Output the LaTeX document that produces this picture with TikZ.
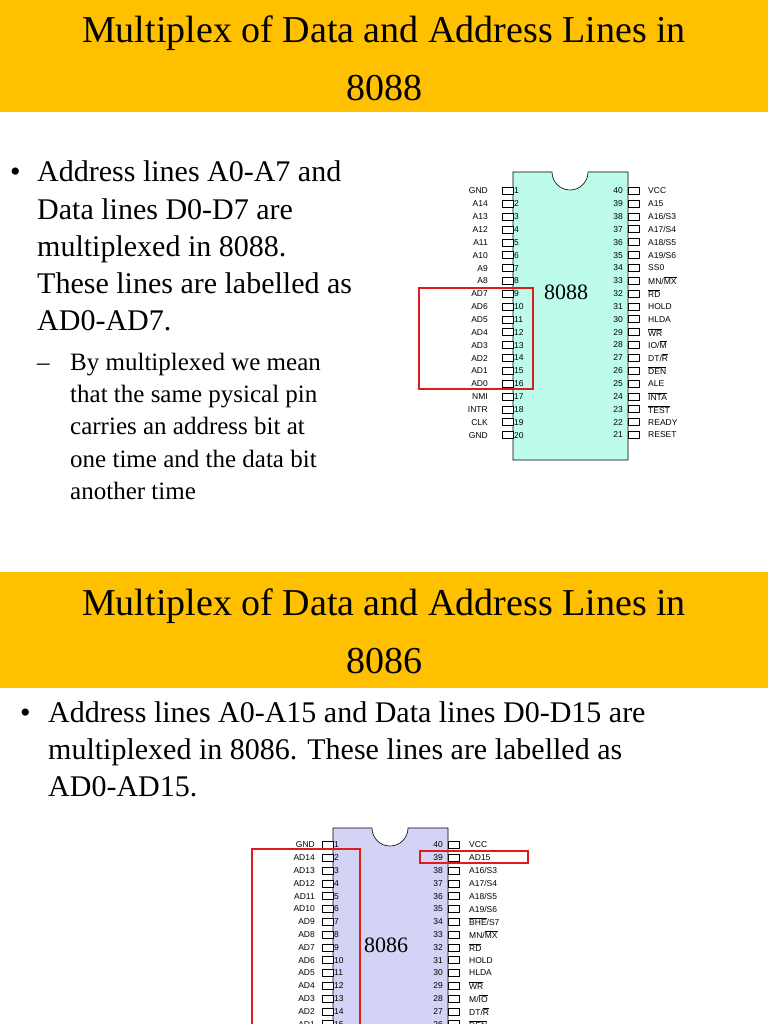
\documentclass[tikz,border=0pt]{standalone}
\usepackage{fontspec}
\setmainfont{Liberation Serif}
\newfontfamily\pinfont{Liberation Sans}
\definecolor{banner}{HTML}{FFC000}
\definecolor{chipA}{HTML}{BDFCEB}
\definecolor{chipB}{HTML}{D3D3F5}
\definecolor{redbox}{HTML}{E01B1B}
\newcommand{\ol}[1]{$\overline{\mbox{#1}}$}
\tikzset{
 title/.style={font=\fontsize{38}{44}\selectfont, anchor=center},
 body/.style={font=\fontsize{30}{36}\selectfont, anchor=base west, inner sep=0, yshift=-10pt},
 sub/.style={font=\fontsize{25}{30}\selectfont, anchor=base west, inner sep=0, yshift=-8pt},
 pinlab/.style={font=\pinfont\fontsize{8.5}{9}\selectfont, inner sep=0},
 pinbox/.style={draw=black, line width=0.8pt, fill=white},
 hl/.style={draw=redbox, line width=1.6pt},
}
\begin{document}
\begin{tikzpicture}[x=1pt,y=-1pt]
\useasboundingbox (0,0) rectangle (768,1024);
\fill[white] (0,0) rectangle (768,1024);
% banners
\fill[banner] (0,0) rectangle (768,112);
\node[title] (t1a) at (384,33) {Multiplex of Data and Address Lines in};
\node[title] (t1b) at (384,88) {8088};
\fill[banner] (0,572) rectangle (768,688);
\node[title] (t2a) at (384,606) {Multiplex of Data and Address Lines in};
\node[title] (t2b) at (384,661) {8086};
% text 1
\node[body] (b1) at (10,172) {•};
\node[body] (l1) at (37,172) {Address lines A0-A7 and};
\node[body] (l2) at (37,209) {Data lines D0-D7 are};
\node[body] (l3) at (37,246) {multiplexed in 8088.};
\node[body] (l4) at (37,283) {These lines are labelled as};
\node[body] (l5) at (37,320) {AD0-AD7.};
\node[sub] (d1) at (37,362) {–};
\node[sub] (s1) at (70,362) {By multiplexed we mean};
\node[sub] (s2) at (70,394) {that the same pysical pin};
\node[sub] (s3) at (70,426) {carries an address bit at};
\node[sub] (s4) at (70,459) {one time and the data bit};
\node[sub] (s5) at (70,491) {another time};
% text 2
\node[body] (b2) at (20,712) {•};
\node[body] (m1) at (48,712) {Address lines A0-A15 and Data lines D0-D15 are};
\node[body] (m2) at (48,749) {multiplexed in 8086. These lines are labelled as};
\node[body] (m3) at (48,786) {AD0-AD15.};
% chip 8088
\fill[chipA, draw=black, line width=0.6pt] (513,172) -- (552,172) arc[start angle=180,end angle=0,radius=18] -- (628,172) -- (628,460) -- (513,460) -- cycle;
\node[font=\fontsize{22}{24}\selectfont] (c1) at (566,292) {8088};
\foreach \n/\l [count=\i] in {GND,A14,A13,A12,A11,A10,A9,A8,AD7,AD6,AD5,AD4,AD3,AD2,AD1,AD0,NMI,INTR,CLK,GND}{
 \pgfmathsetmacro\yy{191+(\i-1)*12.85}
 \draw[pinbox] (502,\yy-3.5) rectangle (513,\yy+3.5);
 \node[pinlab, anchor=east] (aL\i) at (488,\yy) {\n};
 \node[pinlab, anchor=west] (aN\i) at (514,\yy) {\i};
}
\foreach \n [count=\i] in {RESET,READY,\ol{TEST},\ol{INTA},ALE,\ol{DEN},DT/\ol{R},IO/\ol{M},\ol{WR},HLDA,HOLD,\ol{RD},MN/\ol{MX},SS0,A19/S6,A18/S5,A17/S4,A16/S3,A15,VCC}{
 \pgfmathsetmacro\yy{435-(\i-1)*12.85}
 \pgfmathtruncatemacro\num{20+\i}
 \draw[pinbox] (628,\yy-3.5) rectangle (639,\yy+3.5);
 \node[pinlab, anchor=west] (aR\i) at (648,\yy) {\n};
 \node[pinlab, anchor=east] (aM\i) at (623,\yy) {\num};
}
\draw[hl] (419,288) rectangle (533,389);
% chip 8086
\fill[chipB, draw=black, line width=0.6pt] (333,828) -- (372,828) arc[start angle=180,end angle=0,radius=18] -- (448,828) -- (448,1030) -- (333,1030) -- cycle;
\node[font=\fontsize{22}{24}\selectfont] (c2) at (386,945) {8086};
\foreach \n [count=\i] in {GND,AD14,AD13,AD12,AD11,AD10,AD9,AD8,AD7,AD6,AD5,AD4,AD3,AD2,AD1,AD0}{
 \pgfmathsetmacro\yy{845+(\i-1)*12.8}
 \draw[pinbox] (322,\yy-3.5) rectangle (333,\yy+3.5);
 \node[pinlab, anchor=east] (bL\i) at (315,\yy) {\n};
 \node[pinlab, anchor=west] (bN\i) at (334,\yy) {\i};
}
\foreach \n [count=\i] in {VCC,AD15,A16/S3,A17/S4,A18/S5,A19/S6,\ol{BHE}/S7,MN/\ol{MX},\ol{RD},HOLD,HLDA,\ol{WR},M/\ol{IO},DT/\ol{R},\ol{DEN}}{
 \pgfmathsetmacro\yy{845+(\i-1)*12.8}
 \pgfmathtruncatemacro\num{41-\i}
 \draw[pinbox] (448,\yy-3.5) rectangle (459,\yy+3.5);
 \node[pinlab, anchor=west] (bR\i) at (469,\yy) {\n};
 \node[pinlab, anchor=east] (bM\i) at (443,\yy) {\num};
}
\draw[hl] (252,1030) |- (360,849) -- (360,1030);
\draw[hl] (420,851) rectangle (528,863);
\end{tikzpicture}
\end{document}
